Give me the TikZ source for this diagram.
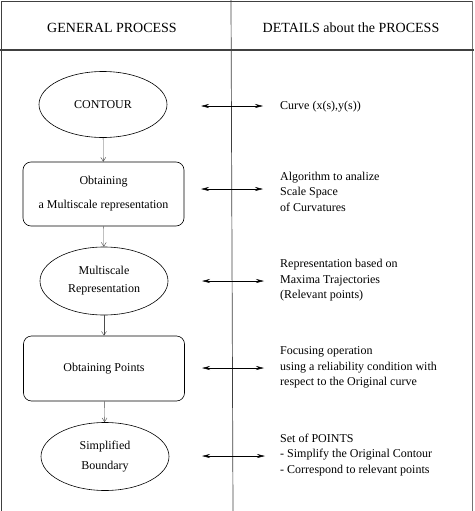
\documentclass[tikz,border=0pt]{standalone}
\usepackage{fontspec}
\setmainfont{Liberation Serif}
\usetikzlibrary{shapes.geometric,arrows.meta}
\begin{document}
\begin{tikzpicture}[x=1pt,y=-1pt,
  frame/.style={line width=0.9pt,black!75},
  oval/.style={draw,ellipse,line width=0.6pt,minimum width=128pt,minimum height=66pt,inner sep=0pt,align=center,font=\fontsize{12}{18}\selectfont},
  procbox/.style={draw,rounded corners=8pt,line width=0.6pt,minimum width=161pt,minimum height=64pt,inner sep=0pt,align=center,font=\fontsize{12}{24}\selectfont},
  detail/.style={anchor=west,align=left,inner sep=0pt,font=\fontsize{12}{15.5}\selectfont},
  head/.style={inner sep=0pt,font=\fontsize{14}{16}\selectfont},
  flow/.style={-{Straight Barb[length=4pt,width=5pt]},line width=0.4pt,black!70},
  link/.style={{Stealth[length=8pt,width=4pt]}-{Stealth[length=8pt,width=4pt]},line width=0.5pt}
]
\useasboundingbox (0,0) rectangle (474,511);
% frame
\coordinate (tl) at (1.5,1.5);
\coordinate (tr) at (472.5,1.5);
\coordinate (bl) at (1.5,511);
\coordinate (br) at (472.5,511);
\coordinate (hl) at (0,50);
\coordinate (hr) at (474,50);
\coordinate (vt) at (231,0);
\coordinate (vb) at (233,511);
\draw[frame,line width=1.4pt] (tl) -- (tr);
\draw[frame] (tl) -- (bl);
\draw[frame,black!55] (tr) -- (br);
\draw[frame,line width=1.2pt] (hl) -- (hr);
\draw[frame,line width=0.7pt] (vt) -- (vb);
% headers
\node[head] (h1) at (112,28) {GENERAL PROCESS};
\node[head] (h2) at (351,28) {DETAILS about the PROCESS};
% left column
\node[oval] (n1) at (103,104.5) {CONTOUR};
\node[procbox] (n2) at (103.5,194) {Obtaining\\a Multiscale representation};
\node[oval,minimum height=68pt] (n3) at (104,281) {Multiscale\\Representation};
\node[procbox,minimum height=65pt] (n4) at (104,368.5) {Obtaining Points};
\node[oval,minimum height=68pt,font=\fontsize{12}{20}\selectfont] (n5) at (105,456.5) {Simplified\\Boundary};
\draw[flow] (n1) -- (n2);
\draw[flow] (n2) -- (n3);
\draw[flow] (n3) -- (n4);
\draw[flow] (n4) -- (n5);
% right column
\node[detail] (d1) at (280,106.5) {Curve (x(s),y(s))};
\node[detail] (d2) at (280,191.5) {Algorithm to analize\\Scale Space\\of Curvatures};
\node[detail] (d3) at (280,280.5) {Representation based on\\Maxima Trajectories\\(Relevant points)};
\node[detail] (d4) at (280,367.5) {Focusing operation\\using a reliability condition with\\respect to the Original curve};
\node[detail] (d5) at (280,455) {Set of POINTS\\- Simplify the Original Contour\\- Correspond to relevant points};
% links
\coordinate (a1l) at (201,106); \coordinate (a1r) at (263,106);
\coordinate (a2l) at (201,189); \coordinate (a2r) at (263,189);
\coordinate (a3l) at (202,281); \coordinate (a3r) at (264,281);
\coordinate (a4l) at (202,368); \coordinate (a4r) at (264,368);
\coordinate (a5l) at (202,456); \coordinate (a5r) at (265,456);
\draw[link] (a1l) -- (a1r);
\draw[link] (a2l) -- (a2r);
\draw[link] (a3l) -- (a3r);
\draw[link] (a4l) -- (a4r);
\draw[link] (a5l) -- (a5r);
\end{tikzpicture}
\end{document}
